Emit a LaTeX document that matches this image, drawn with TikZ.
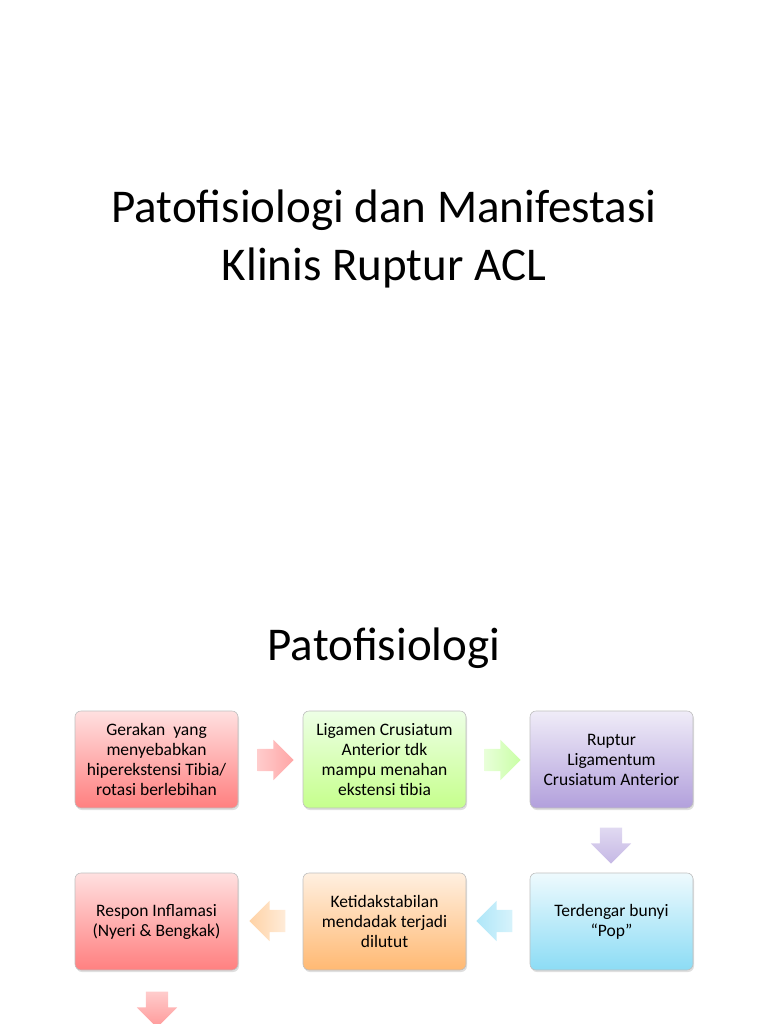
\documentclass[tikz,border=0pt]{standalone}
\usepackage{fontspec}
\setmainfont{Carlito}
\usetikzlibrary{shapes.arrows,shadows}
\definecolor{lav}{RGB}{178,160,220}
\definecolor{sky}{RGB}{140,220,245}
\begin{document}
\begin{tikzpicture}[x=1pt,y=-1pt,
  box/.style={rounded corners=6pt,draw=black!25,line width=0.6pt,minimum width=163pt,minimum height=97pt,
    align=center,font=\fontsize{17.5}{20}\selectfont,drop shadow={opacity=0.25,shadow xshift=1pt,shadow yshift=-2pt}},
  arr/.style={single arrow,minimum height=36pt,single arrow head extend=9pt,inner sep=11pt,draw=none}]
\useasboundingbox (0,0) rectangle (768,1024);
\node (t1) at (384,240) {\fontsize{47}{58}\selectfont\begin{tabular}{c}Patofisiologi dan Manifestasi\\Klinis Ruptur ACL\end{tabular}};
\node (t2) at (384,648) {\fontsize{47}{56}\selectfont Patofisiologi};
\node[box,top color=red!12,bottom color=red!50] (b1) at (156.5,759.5) {Gerakan\ \ yang\\menyebabkan\\hiperekstensi Tibia/\\rotasi berlebihan};
\node[box,top color=green!70!yellow!10,bottom color=green!50!yellow!45] (b2) at (384.5,759.5) {Ligamen Crusiatum\\Anterior tdk\\mampu menahan\\ekstensi tibia};
\node[box,top color=lav!20,bottom color=lav] (b3) at (611.5,759.5) {Ruptur\\Ligamentum\\Crusiatum Anterior};
\node[box,top color=sky!15,bottom color=sky] (b4) at (611.5,921.5) {Terdengar bunyi\\“Pop”};
\node[box,top color=orange!12,bottom color=orange!55] (b5) at (384.5,921.5) {Ketidakstabilan\\mendadak terjadi\\dilutut};
\node[box,top color=red!12,bottom color=red!50] (b6) at (156.5,921.5) {Respon Inflamasi\\(Nyeri \& Bengkak)};
\node[arr,left color=red!20,right color=red!35] (a1) at (270,760) {};
\node[arr,left color=green!60!yellow!15,right color=green!60!yellow!35] (a2) at (497,760) {};
\node[arr,shape border rotate=270,top color=lav!40,bottom color=lav!75] (a3) at (611,840) {};
\node[arr,shape border rotate=180,right color=sky!35,left color=sky!70] (a4) at (500,921) {};
\node[arr,shape border rotate=180,right color=orange!15,left color=orange!35] (a5) at (273,921) {};
\node[arr,shape border rotate=270,top color=red!20,bottom color=red!40] (a6) at (157,1004) {};
\end{tikzpicture}
\end{document}
